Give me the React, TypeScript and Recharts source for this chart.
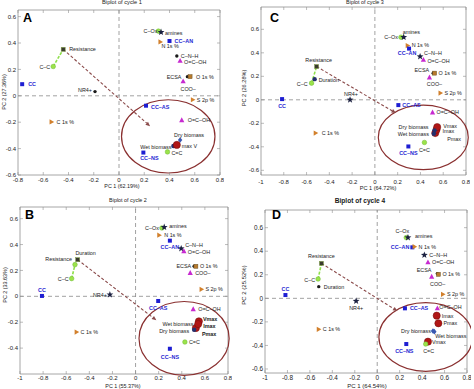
import React from "react";
import {
  ScatterChart,
  Scatter,
  XAxis,
  YAxis,
  ReferenceLine,
  ReferenceArea,
} from "recharts";

const FONT = '"Liberation Sans", Arial, sans-serif';
const BLUE = "#1e1ed2";
const INK = "#1a1a1a";
const FRAME = "#8f8f8f";

// ---- cycle 1 (A) ----
const IDS_A = ["CC", "C–C", "Resistance", "NR4+", "C 1s %", "C–Ox", "amines", "N 1s %", "CC–AN", "C–N–H", "O=C–OH", "ECSA", "O 1s %", "COO–", "S 2p %", "CC–AS", "O=C–OH #2", "Wet biomass", "Dry biomass", "max V", "CC–NS", "C=C"];
const PC1_A = [-0.767, -0.521, -0.442, -0.19, -0.534, 0.312, 0.333, 0.328, 0.4, 0.458, 0.484, 0.542, 0.563, 0.508, 0.585, 0.214, 0.497, 0.431, 0.484, 0.458, 0.193, 0.384];
const PC2_A = [0.088, 0.222, 0.352, 0.032, -0.198, 0.49, 0.482, 0.408, 0.415, 0.302, 0.265, 0.145, 0.145, 0.11, -0.03, -0.075, -0.185, -0.38, -0.335, -0.372, -0.43, -0.425];

// ---- cycle 2 (B) ----
const IDS_B = ["CC", "C–C", "Resistance", "Duration", "NR4+", "C 1s %", "C–Ox", "amines", "N 1s %", "CC–AN", "C–N–H", "O=C–OH", "ECSA", "O 1s %", "COO–", "S 2p %", "CC–AS", "O=C–OH #2", "Wet biomass", "Pmax", "Vmax", "Imax", "Dry biomass", "C=C", "CC–NS"];
const PC1_B = [-0.81, -0.553, -0.524, -0.501, -0.222, -0.51, 0.228, 0.248, 0.205, 0.297, 0.395, 0.418, 0.507, 0.522, 0.473, 0.571, 0.196, 0.499, 0.527, 0.522, 0.548, 0.542, 0.507, 0.427, 0.297];
const PC2_B = [0.003, 0.137, 0.245, 0.283, 0.013, -0.276, 0.528, 0.534, 0.472, 0.43, 0.369, 0.348, 0.232, 0.232, 0.18, 0.054, -0.036, -0.1, -0.229, -0.245, -0.193, -0.214, -0.258, -0.353, -0.405];

// ---- cycle 3 (C) ----
const IDS_C = ["CC", "C–C", "Duration", "Resistance", "NR4+", "C 1s %", "C–Ox", "amines", "N 1s %", "CC–AN", "C–N–H", "O=C–OH", "ECSA", "O 1s %", "COO–", "S 2p %", "CC–AS", "O=C–OH #2", "Pmax", "Imax", "Vmax", "Dry biomass", "Wet biomass", "C=C", "CC–NS"];
const PC1_C = [-0.815, -0.556, -0.529, -0.512, -0.218, -0.52, 0.229, 0.253, 0.288, 0.3, 0.397, 0.426, 0.512, 0.524, 0.479, 0.576, 0.206, 0.506, 0.53, 0.541, 0.547, 0.524, 0.518, 0.435, 0.294];
const PC2_C = [0.006, 0.142, 0.176, 0.283, 0, -0.283, 0.533, 0.533, 0.462, 0.436, 0.368, 0.34, 0.227, 0.227, 0.19, 0.057, -0.045, -0.108, -0.283, -0.255, -0.232, -0.26, -0.289, -0.363, -0.397];

// ---- cycle 4 (D) ----
const IDS_D = ["CC", "C–C", "Resistance", "Duration", "NR4+", "C 1s %", "C–Ox", "amines", "CC–AN", "N 1s %", "C–N–H", "O=C–OH", "ECSA", "O 1s %", "COO–", "S 2p %", "CC–AS", "O=C–OH #2", "Imax", "Pmax", "Dry biomass", "Wet biomass", "Vmax", "C=C", "CC–NS"];
const PC1_D = [-0.818, -0.527, -0.497, -0.521, -0.188, -0.521, 0.259, 0.274, 0.313, 0.333, 0.42, 0.452, 0.536, 0.545, 0.485, 0.586, 0.247, 0.536, 0.53, 0.545, 0.497, 0.509, 0.452, 0.432, 0.259];
const PC2_D = [0.028, 0.164, 0.297, 0.099, -0.023, -0.263, 0.516, 0.516, 0.433, 0.439, 0.368, 0.306, 0.21, 0.204, 0.184, 0.034, -0.085, -0.085, -0.147, -0.212, -0.278, -0.283, -0.368, -0.388, -0.388];

const X_TICKS_A = [-0.8, -0.6, -0.4, -0.2, 0, 0.2, 0.4, 0.6, 0.8];
const X_TICKS = [-1, -0.8, -0.6, -0.4, -0.2, 0, 0.2, 0.4, 0.6, 0.8];
const Y_TICKS = [-0.6, -0.4, -0.2, 0, 0.2, 0.4, 0.6];
const Y_TICKS_B = [-0.4, -0.2, 0, 0.2, 0.4, 0.6];

// highlighted group: [x1, x2, y1, y2]
const ELLIPSE_A = [0.02, 0.76, -0.585, -0.03];
const ELLIPSE_B = [0.03, 0.81, -0.61, -0.04];
const ELLIPSE_C = [0.03, 0.82, -0.595, -0.045];
const ELLIPSE_D = [0.015, 0.85, -0.62, -0.037];

// arrow tips (arrow starts at Resistance, or Duration in cycle 2)
const ARROW_A = [0.246, -0.23];
const ARROW_B = [0.18, -0.185];
const ARROW_C = [0.185, -0.113];
const ARROW_D = [0.18, -0.108];

type Anchor = "s" | "e" | "m";
type LabelMap = Record<string, [number, number, Anchor]>;

const KIND: Record<string, string> = {
  CC: "sq", "CC–AN": "sq", "CC–AS": "sq", "CC–NS": "sq",
  "C–C": "lime", "C–Ox": "lime", "C=C": "lime",
  Resistance: "sqDark", Duration: "dotDark",
  "NR4+": "star", amines: "star", "C–N–H": "star",
  "N 1s %": "triR", "C 1s %": "triR", "S 2p %": "triR",
  "O 1s %": "sqO", ECSA: "dotDark",
  "O=C–OH": "triU", "O=C–OH #2": "triU", "COO–": "triU",
  "Dry biomass": "navy", "Wet biomass": "navy",
  Vmax: "big", Imax: "big", Pmax: "big", "max V": "big",
};

const LABELS_A: LabelMap = {
  CC: [6, 0, "s"], "C–C": [-3, 1, "e"], Resistance: [6, 0, "s"], "NR4+": [-3, -1, "e"],
  "C 1s %": [5, 0, "s"], "C–Ox": [-1, 0, "e"], amines: [4, 1, "s"], "N 1s %": [1, 4, "s"],
  "CC–AN": [5, 0, "s"], "C–N–H": [4, 0, "s"], "O=C–OH": [4, 1, "s"], ECSA: [-6, 0, "e"],
  "O 1s %": [6, 0, "s"], "COO–": [5, 8, "m"], "S 2p %": [4, 0, "s"], "CC–AS": [5, 1, "s"],
  "O=C–OH #2": [6, 0, "s"], "Wet biomass": [-2, 1, "e"], "Dry biomass": [9, -5, "m"],
  "max V": [5, 1, "s"], "CC–NS": [6, 6, "m"], "C=C": [4, 1, "s"],
};
const LABELS_B: LabelMap = {
  CC: [0, -6, "m"], "C–C": [-3, 1, "e"], Resistance: [-3, -5, "e"], Duration: [8, -7, "m"],
  "NR4+": [-3, 0, "e"], "C 1s %": [4, 0, "s"], "C–Ox": [-3, 0, "e"], amines: [5, -1, "s"],
  "N 1s %": [5, 0, "s"], "CC–AN": [0, 6, "m"], "C–N–H": [4, -3, "s"], "O=C–OH": [4, 1, "s"],
  ECSA: [-3, 0, "e"], "O 1s %": [4, 0, "s"], "COO–": [5, 0, "s"], "S 2p %": [4, 0, "s"],
  "CC–AS": [0, 7, "m"], "O=C–OH #2": [5, 0, "s"], Vmax: [4, -2, "s"], Imax: [5, 2.5, "s"],
  Pmax: [6, 6, "s"], "Wet biomass": [-3, -2, "e"], "Dry biomass": [-5, 1.5, "e"],
  "C=C": [4, 0, "s"], "CC–NS": [0, 8, "m"],
};
const LABELS_C: LabelMap = {
  CC: [0, 7, "m"], "C–C": [-4, 1, "e"], Duration: [4, 1, "s"], Resistance: [2, -6, "m"],
  "NR4+": [1, -6, "m"], "C 1s %": [6, 0, "s"], "C–Ox": [-3, 0, "e"], amines: [-1, -5, "s"],
  "N 1s %": [4, 0, "s"], "CC–AN": [-2, 5, "m"], "C–N–H": [4, -3, "s"], "O=C–OH": [4, 1, "s"],
  ECSA: [-4, -3, "e"], "O 1s %": [4, 0, "s"], "COO–": [5, 7, "m"], "S 2p %": [4, 0, "s"],
  "CC–AS": [4, 0, "s"], "O=C–OH #2": [4, 0, "s"], Vmax: [6, -1, "s"], Imax: [6, 1, "s"],
  Pmax: [12, 6, "s"], "Dry biomass": [-6, -3, "e"], "Wet biomass": [-5, 0, "e"],
  "C=C": [0, 8, "m"], "CC–NS": [0, 7, "m"],
};
const LABELS_D: LabelMap = {
  CC: [0, -6, "m"], "C–C": [-3, 1, "e"], Resistance: [0, -7, "m"], Duration: [5, 0, "s"],
  "NR4+": [0, 7, "m"], "C 1s %": [4, 0, "s"], "C–Ox": [-4, -6, "m"], amines: [7, -1, "s"],
  "CC–AN": [-3, 0, "e"], "N 1s %": [4, 0, "s"], "C–N–H": [5, 0, "s"], "O=C–OH": [4, 0, "s"],
  ECSA: [-6, -3, "e"], "O 1s %": [4, 0, "s"], "COO–": [6, 7, "m"], "S 2p %": [4, 0, "s"],
  "CC–AS": [5, 0, "s"], "O=C–OH #2": [2, -1, "s"], Imax: [5, 0, "s"], Pmax: [5, 0, "s"],
  "Dry biomass": [-2, 0, "e"], "Wet biomass": [1, 4, "s"], Vmax: [4, 0, "s"],
  "C=C": [3, 7, "m"], "CC–NS": [-2, 7, "m"],
};

function starPoints(cx: number, cy: number, R: number, r: number) {
  const pts: string[] = [];
  for (let i = 0; i < 10; i++) {
    const a = -Math.PI / 2 + (i * Math.PI) / 5;
    const rad = i % 2 === 0 ? R : r;
    pts.push(`${cx + rad * Math.cos(a)},${cy + rad * Math.sin(a)}`);
  }
  return pts.join(" ");
}

function Mark({ kind, cx, cy }: { kind: string; cx: number; cy: number }) {
  switch (kind) {
    case "sq":
      return <rect x={cx - 2} y={cy - 2} width={4} height={4} fill={BLUE} />;
    case "sqDark":
      return <rect x={cx - 2} y={cy - 2} width={4} height={4} fill="#3a3a2e" stroke="#7a9a40" strokeWidth={0.5} />;
    case "sqO":
      return <rect x={cx - 2} y={cy - 2} width={4} height={4} fill="#b87a2c" stroke="#6a5428" strokeWidth={0.5} />;
    case "lime":
      return <circle cx={cx} cy={cy} r={2.3} fill="#9be34a" stroke="#6eb832" strokeWidth={0.5} />;
    case "dotDark":
      return <circle cx={cx} cy={cy} r={1.7} fill="#1a1a1a" />;
    case "navy":
      return <circle cx={cx} cy={cy} r={2.2} fill="#24306e" />;
    case "star":
      return <polygon points={starPoints(cx, cy, 3.6, 1.5)} fill="#1b2040" />;
    case "triR":
      return <polygon points={`${cx - 2},${cy - 2.6} ${cx + 2.6},${cy} ${cx - 2},${cy + 2.6}`} fill="#d2802c" />;
    case "triU":
      return <polygon points={`${cx},${cy - 2.9} ${cx + 2.6},${cy + 2} ${cx - 2.6},${cy + 2}`} fill="#c72ad0" />;
    case "dia":
      return <polygon points={`${cx},${cy - 2.8} ${cx + 2.2},${cy} ${cx},${cy + 2.8} ${cx - 2.2},${cy}`} fill="#3a58b0" />;
    case "big":
      return <circle cx={cx} cy={cy} r={3.6} fill="#b01616" stroke="#6e0a0a" strokeWidth={0.5} />;
    default:
      return null;
  }
}

type Panel = {
  ids: string[];
  pc1: number[];
  pc2: number[];
  labels: LabelMap;
  kinds: Record<string, string>;
  bold: string[];
  box: { l: number; t: number; r: number; b: number };
  xDomain: [number, number];
  yDomain: [number, number];
  xTicks: number[];
  yTicks: number[];
  tickFont: number;
  xGap: number;
  ellipse: number[];
  arrowFrom: string;
  arrow: number[];
};

function Biplot({ p }: { p: Panel }) {
  const data = p.ids.map((id, i) => ({ id, x: p.pc1[i], y: p.pc2[i] }));
  const at = (id: string) => data.find((d) => d.id === id)!;
  const bw = p.box.r - p.box.l;
  const bh = p.box.b - p.box.t;
  const top = 4;
  const left = 22;
  const bottom = top + bh;
  const right = left + bw;
  const from = at(p.arrowFrom);
  const cc = at("C–C");
  const res = at("Resistance");

  const xTick = (t: any) => (
    <g>
      <line x1={t.x} x2={t.x} y1={bottom} y2={bottom - 3} stroke={FRAME} strokeWidth={0.6} />
      <line x1={t.x} x2={t.x} y1={top} y2={top + 3} stroke={FRAME} strokeWidth={0.6} />
      <text x={t.x} y={bottom + p.xGap} dy="0.8em" textAnchor="middle" fontSize={p.tickFont} fontFamily={FONT} fill={INK}>
        {t.payload.value}
      </text>
    </g>
  );
  const yTick = (t: any) => (
    <g>
      <line x1={left} x2={left + 3} y1={t.y} y2={t.y} stroke={FRAME} strokeWidth={0.6} />
      <line x1={right} x2={right - 3} y1={t.y} y2={t.y} stroke={FRAME} strokeWidth={0.6} />
      <text x={left - 2} y={t.y} dy="0.35em" textAnchor="end" fontSize={p.tickFont} fontFamily={FONT} fill={INK}>
        {t.payload.value}
      </text>
    </g>
  );

  return (
    <div style={{ position: "absolute", left: p.box.l - left, top: p.box.t - top }}>
      <ScatterChart width={bw + left + 4} height={bh + top + 12} margin={{ top, right: 4, left: 0, bottom: 0 }}>
        <XAxis type="number" dataKey="x" domain={p.xDomain} ticks={p.xTicks} allowDataOverflow interval={0}
          height={12} axisLine={false} tickLine={false} tick={xTick} />
        <YAxis type="number" dataKey="y" domain={p.yDomain} ticks={p.yTicks} allowDataOverflow interval={0}
          width={left} axisLine={false} tickLine={false} tick={yTick} />
        <ReferenceArea x1={p.xDomain[0]} x2={p.xDomain[1]} y1={p.yDomain[0]} y2={p.yDomain[1]}
          fill="none" fillOpacity={0} stroke={FRAME} strokeWidth={0.8} ifOverflow="visible" />
        <ReferenceLine x={0} stroke="#8a8a8a" strokeWidth={0.8} strokeDasharray="4 3" />
        <ReferenceLine y={0} stroke="#8a8a8a" strokeWidth={0.8} strokeDasharray="4 3" />
        <ReferenceArea x1={p.ellipse[0]} x2={p.ellipse[1]} y1={p.ellipse[2]} y2={p.ellipse[3]} ifOverflow="visible"
          shape={(s: any) => (
            <ellipse cx={s.x + s.width / 2} cy={s.y + s.height / 2} rx={Math.abs(s.width) / 2} ry={Math.abs(s.height) / 2}
              fill="none" stroke="#8a3030" strokeWidth={1.2} />
          )} />
        <ReferenceLine segment={[{ x: cc.x, y: cc.y }, { x: res.x, y: res.y }]} ifOverflow="visible"
          stroke="#8fe04c" strokeWidth={1.6} strokeDasharray="3 1.5" />
        <ReferenceLine segment={[{ x: from.x, y: from.y }, { x: p.arrow[0], y: p.arrow[1] }]} ifOverflow="visible"
          shape={(s: any) => {
            const a = Math.atan2(s.y2 - s.y1, s.x2 - s.x1);
            const L = 4.5, w = 2;
            const bx = s.x2 - L * Math.cos(a), by = s.y2 - L * Math.sin(a);
            return (
              <g>
                <line x1={s.x1} y1={s.y1} x2={bx} y2={by} stroke="#8a4a4a" strokeWidth={1.1} strokeDasharray="3 2" />
                <polygon
                  points={`${s.x2},${s.y2} ${bx - w * Math.sin(a)},${by + w * Math.cos(a)} ${bx + w * Math.sin(a)},${by - w * Math.cos(a)}`}
                  fill="#8a4a4a" />
              </g>
            );
          }} />
        <Scatter data={data} isAnimationActive={false}
          shape={(sp: any) => {
            const id: string = sp.payload.id;
            const kind = p.kinds[id] ?? KIND[id];
            const [dx, dy, anc] = p.labels[id] ?? [4, 0, "s"];
            const blue = id.startsWith("CC");
            const strong = blue || p.bold.includes(id);
            return (
              <g>
                <Mark kind={kind} cx={sp.cx} cy={sp.cy} />
                <text x={sp.cx + dx} y={sp.cy + dy} dy="0.35em"
                  textAnchor={anc === "s" ? "start" : anc === "e" ? "end" : "middle"}
                  fontSize={5.4} fontFamily={FONT} fontWeight={strong ? 700 : 400} fill={blue ? BLUE : INK}>
                  {id.replace(/ #\d$/, "")}
                </text>
              </g>
            );
          }} />
      </ScatterChart>
    </div>
  );
}

const PANELS: Panel[] = [
  {
    ids: IDS_A, pc1: PC1_A, pc2: PC2_A, labels: LABELS_A, bold: [],
    kinds: { "NR4+": "dotDark", "C–N–H": "dotDark", "Dry biomass": "dia" },
    box: { l: 18, t: 10, r: 220, b: 175 }, xDomain: [-0.8, 0.8], yDomain: [-0.6, 0.65],
    xTicks: X_TICKS_A, yTicks: Y_TICKS, tickFont: 6, xGap: 2.2,
    ellipse: ELLIPSE_A, arrowFrom: "Resistance", arrow: ARROW_A,
  },
  {
    ids: IDS_B, pc1: PC1_B, pc2: PC2_B, labels: LABELS_B, bold: ["Vmax", "Imax", "Pmax"],
    kinds: { Resistance: "lime", Duration: "sqDark" },
    box: { l: 20, t: 207, r: 228, b: 374 }, xDomain: [-1, 0.8], yDomain: [-0.6, 0.69],
    xTicks: X_TICKS, yTicks: Y_TICKS_B, tickFont: 6, xGap: 1,
    ellipse: ELLIPSE_B, arrowFrom: "Duration", arrow: ARROW_B,
  },
  {
    ids: IDS_C, pc1: PC1_C, pc2: PC2_C, labels: LABELS_C, bold: [],
    kinds: { Duration: "navy" },
    box: { l: 261, t: 7, r: 466, b: 175 }, xDomain: [-1, 0.8], yDomain: [-0.64, 0.79],
    xTicks: X_TICKS, yTicks: Y_TICKS, tickFont: 6, xGap: 4,
    ellipse: ELLIPSE_C, arrowFrom: "Resistance", arrow: ARROW_C,
  },
  {
    ids: IDS_D, pc1: PC1_D, pc2: PC2_D, labels: LABELS_D, bold: [],
    kinds: { "Dry biomass": "dia", "Wet biomass": "dia" },
    box: { l: 265, t: 210, r: 467, b: 373 }, xDomain: [-1, 0.8], yDomain: [-0.634, 0.75],
    xTicks: X_TICKS, yTicks: Y_TICKS, tickFont: 6.4, xGap: 2,
    ellipse: ELLIPSE_D, arrowFrom: "Resistance", arrow: ARROW_D,
  },
];

// titles, axis titles and panel letters, in page pixels
const CAPTIONS = [
  { letter: "A", lx: 23, ly: 22, title: "Biplot of cycle 1", tx: 122, ty: 3.5, ts: 5.7, tb: 400,
    xl: "PC 1 (62.19%)", xx: 122, xy: 188, yl: "PC 2 (27.36%)", yx: 4, yy: 92, fs: 5.4 },
  { letter: "B", lx: 25, ly: 218.5, title: "Biplot of cycle 2", tx: 128, ty: 202, ts: 5.4, tb: 400,
    xl: "PC 1 (55.37%)", xx: 123, xy: 387.5, yl: "PC 2 (33.63%)", yx: 5, yy: 285, fs: 5.4 },
  { letter: "C", lx: 270, ly: 21.5, title: "Biplot of cycle 3", tx: 365, ty: 3.5, ts: 5.4, tb: 400,
    xl: "PC 1 (64.72%)", xx: 378, xy: 190, yl: "PC 2 (26.28%)", yx: 244, yy: 88, fs: 5.6 },
  { letter: "D", lx: 272, ly: 219, title: "Biplot of cycle 4", tx: 360, ty: 202.5, ts: 6.6, tb: 700,
    xl: "PC 1 (64.54%)", xx: 367, xy: 388, yl: "PC 2 (25.52%)", yx: 244, yy: 285, fs: 6 },
];

export default function App() {
  return (
    <div style={{ position: "absolute", left: 0, top: 0, width: 474, height: 389, background: "#fff", overflow: "hidden" }}>
      {PANELS.map((p, i) => (
        <Biplot key={i} p={p} />
      ))}
      <svg width={474} height={389} style={{ position: "absolute", left: 0, top: 0, pointerEvents: "none" }}>
        {CAPTIONS.map((c) => (
          <g key={c.letter} fontFamily={FONT} fill={INK}>
            <text x={c.lx} y={c.ly} fontSize={12.5} fontWeight={700} fill="#000">{c.letter}</text>
            <text x={c.tx} y={c.ty} fontSize={c.ts} fontWeight={c.tb} textAnchor="middle">{c.title}</text>
            <text x={c.xx} y={c.xy} fontSize={c.fs} textAnchor="middle">{c.xl}</text>
            <text transform={`translate(${c.yx},${c.yy}) rotate(-90)`} fontSize={c.fs} textAnchor="middle" dy="0.35em">
              {c.yl}
            </text>
          </g>
        ))}
      </svg>
    </div>
  );
}
